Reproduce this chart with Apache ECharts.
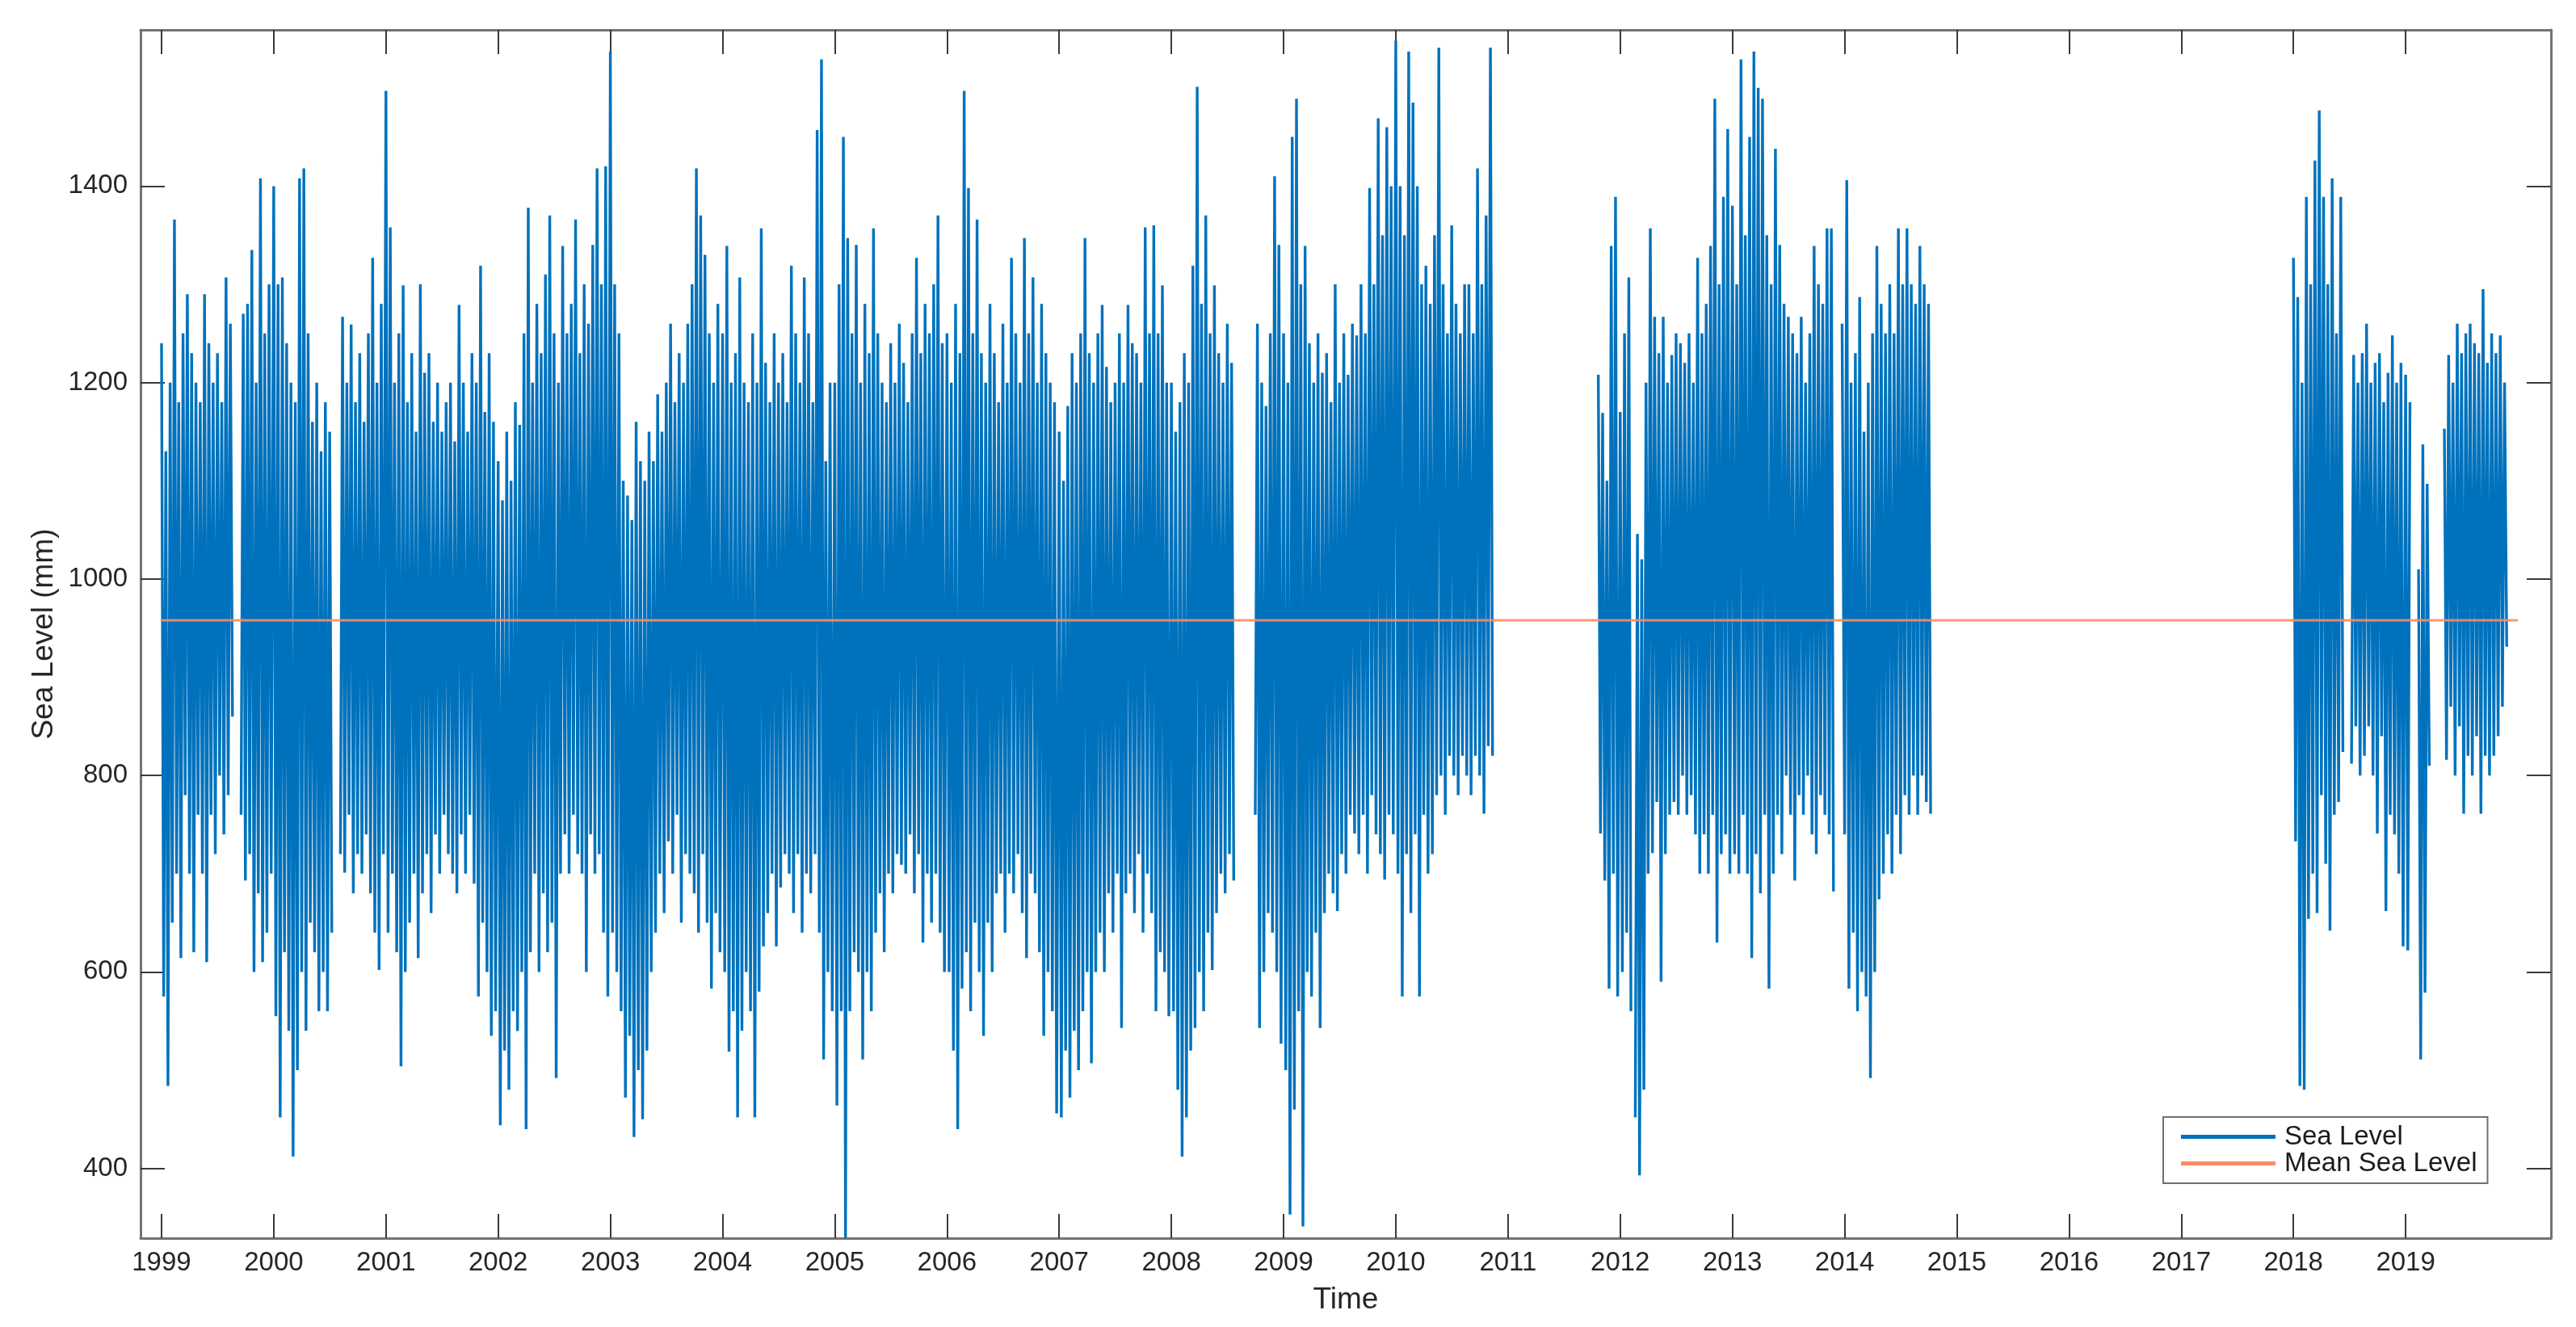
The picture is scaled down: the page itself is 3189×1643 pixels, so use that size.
<!DOCTYPE html>
<html>
<head>
<meta charset="utf-8">
<script src="https://cdn.jsdelivr.net/npm/echarts@6/dist/echarts.min.js"></script>
<style>
html,body{margin:0;padding:0;background:#fff;}
#chart{width:3189px;height:1643px;}
</style>
</head>
<body>
<div id="chart"></div>
<script>
// ---- Data (weekly extremes, mm) ----
const sl1999 = [1240,575,1130,484,1200,650,1366,700,1180,614,1250,780,1290,700,1230,620,1200,760,1180,700,1290,610,1240,760,1200,720,1230,800,1180,740,1307,780,1260,860,null,null,null,760,1270,693,1280,720,1335,600,1200,680,1408,610,1250,640,1300,700];
const sl2000 = [1400,555,1300,452,1307,620,1240,540,1200,412,1180,500,1408,600,1418,540,1250,650,1160,620,1200,560,1130,600,1180,560,1150,640,null,null,null,720,1267,701,1200,760,1259,680,1180,720,1230,700,1160,740,1250,680,1327,640,1200,602,1280,720];
const sl2001 = [1497,640,1358,700,1200,620,1250,504,1299,600,1180,650,1230,700,1150,614,1300,680,1210,720,1230,660,1160,740,1200,700,1150,760,1180,720,1200,700,1140,680,1279,740,1200,700,1150,760,1230,690,1200,575,1319,650,1170,600,1230,535,1160,560];
const sl2002 = [1120,444,1080,520,1150,480,1100,560,1180,540,1157,600,1250,440,1378,620,1200,700,1280,600,1230,680,1310,620,1370,650,1250,492,1200,700,1339,740,1250,700,1280,760,1366,720,1230,700,1300,600,1260,740,1340,700,1418,720,1300,640,1420,575];
const sl2003 = [1537,640,1300,600,1250,560,1100,472,1085,535,1060,432,1160,500,1120,450,1100,520,1150,600,1120,640,1188,700,1150,660,1200,733,1260,700,1180,760,1230,650,1200,720,1260,700,1300,680,1418,640,1370,720,1330,650,1250,583,1200,660,1280,620];
const sl2004 = [1250,600,1339,519,1200,560,1230,452,1307,540,1200,600,1180,560,1250,452,1200,580,1357,626,1220,660,1180,700,1250,626,1200,686,1230,720,1180,700,1319,660,1250,720,1200,640,1307,700,1250,680,1180,720,1457,640,1529,511,1120,600,1200,560];
const sl2005 = [1200,464,1300,560,1450,329,1347,560,1250,620,1340,600,1200,511,1280,600,1230,560,1357,640,1250,680,1200,620,1180,700,1240,680,1200,720,1260,709,1220,700,1180,740,1250,680,1327,720,1230,630,1280,700,1250,650,1300,700,1370,640,1240,600];
const sl2006 = [1250,600,1200,520,1280,440,1230,583,1497,620,1398,560,1250,650,1366,600,1230,535,1200,650,1280,600,1230,680,1180,700,1260,640,1200,700,1327,680,1250,720,1200,660,1347,614,1250,700,1307,680,1200,620,1280,535,1230,600,1200,560,1180,456];
const sl2007 = [1150,452,1100,520,1176,472,1230,540,1200,500,1250,560,1347,600,1230,507,1200,600,1250,640,1279,600,1216,680,1180,640,1200,700,1250,543,1200,680,1279,700,1240,660,1230,720,1200,640,1358,700,1250,660,1360,560,1250,620,1299,600,1200,555];
const sl2008 = [1200,560,1150,480,1180,412,1230,452,1200,520,1319,543,1501,600,1280,560,1370,640,1250,602,1299,660,1230,700,1200,680,1260,720,1220,693,null,null,null,null,null,null,null,null,null,760,1260,543,1200,600,1176,660,1250,640,1410,600,1340,527];
const sl2009 = [1250,500,1200,353,1450,460,1489,560,1300,341,1339,600,1240,575,1200,640,1250,543,1210,660,1230,700,1180,680,1300,662,1200,720,1250,700,1208,760,1260,741,1248,720,1300,760,1250,700,1398,780,1300,740,1469,720,1350,694,1460,760,1400,740];
const sl2010 = [1548,700,1400,575,1350,720,1537,660,1485,740,1400,575,1300,760,1319,700,1280,720,1350,780,1541,800,1300,760,1250,820,1360,800,1280,780,1250,820,1300,800,1300,780,1250,820,1418,800,1300,761,1370,830,1541,820,null,null,null,null,null,null];
const sl2011 = [null,null,null,null,null,null,null,null,null,null,null,null,null,null,null,null,null,null,null,null,null,null,null,null,null,null,null,null,null,null,null,null,null,null,null,null,null,null,null,null,null,null,1208,741,1169,693,1100,583,1339,700,1389,575];
const sl2012 = [1170,600,1250,640,1307,560,null,452,1046,393,1020,480,1200,700,1357,721,1267,773,1230,590,1267,720,1200,760,1228,773,1250,760,1240,800,1220,760,1250,780,1200,740,1327,700,1250,740,1280,700,1339,760,1489,630,1300,720,1389,740,1458,700];
const sl2013 = [1380,720,1300,700,1529,760,1350,700,1450,614,1537,720,1500,680,1489,760,1350,583,1300,700,1438,760,1340,720,1280,800,1267,760,1250,693,1230,780,1267,760,1200,800,1250,740,1339,720,1300,780,1280,760,1357,740,1357,682,null,null,null,1260];
const sl2014 = [740,1406,583,1200,640,1230,560,1287,600,1150,575,1200,492,1250,600,1339,674,1280,700,1250,740,1300,700,1250,760,1357,720,1300,780,1357,760,1300,800,1280,760,1339,800,1300,773,1280,761,null,null,null,null,null,null,null,null,null,null,null];
const sl2018 = [1327,733,1287,484,1200,480,1389,654,1300,700,1426,660,1477,780,1389,710,1300,642,1408,760,1250,773,1389,824,null,null,null,812,1228,850,1200,800,1230,820,1260,850,1200,800,1220,741,1230,840,1180,662,1210,760,1248,740,1200,700,1220,626];
const sl2019 = [1208,622,1180,null,null,null,1010,511,1137,579,1097,810,null,null,null,null,null,null,1153,816,1228,870,1200,800,1260,850,1230,761,1250,820,1260,800,1240,840,1230,761,1295,820,1220,800,1250,820,1230,840,1248,870,1200,931];

const dataYears = [1999,2000,2001,2002,2003,2004,2005,2006,2007,2008,2009,2010,2011,2012,2013,2014,2018,2019];
const yearArrays = [sl1999,sl2000,sl2001,sl2002,sl2003,sl2004,sl2005,sl2006,sl2007,sl2008,sl2009,sl2010,sl2011,sl2012,sl2013,sl2014,sl2018,sl2019];

const meanSeaLevel = 958;
const meanStartYear = 1999;
const meanEndYear = 2020;

const xTickYears = [1999,2000,2001,2002,2003,2004,2005,2006,2007,2008,2009,2010,2011,2012,2013,2014,2015,2016,2017,2018,2019];
const yTickValues = [400,600,800,1000,1200,1400];
const xRange = [1998.813, 2020.295];
const yRange = [329, 1559];

// ---- Build series data: weekly samples, decimal-year x ----
const seaData = [];
dataYears.forEach(function (yr, i) {
  yearArrays[i].forEach(function (v, w) {
    const x = yr + (w * 7) / 365.25;
    seaData.push([x, v === null ? '-' : v]);
  });
});
const meanData = [[meanStartYear, meanSeaLevel], [meanEndYear, meanSeaLevel]];

const FONT = '"Liberation Sans", Arial, Helvetica, sans-serif';
const axisLineStyle = { color: '#737373', width: 3 };
const tickStyle = { color: '#3a3a3a', width: 2 };

const chart = echarts.init(document.getElementById('chart'), null, { renderer: 'canvas' });
chart.setOption({
  animation: false,
  backgroundColor: '#ffffff',
  textStyle: { fontFamily: FONT },
  grid: { left: 174, right: 31, top: 37, bottom: 110, containLabel: false },
  legend: {
    orient: 'vertical',
    left: 2678,
    top: 1383,
    padding: [8, 13, 8, 22],
    itemGap: 0,
    itemWidth: 117,
    itemHeight: 5,
    backgroundColor: '#ffffff',
    borderColor: '#6f6f6f',
    borderWidth: 2,
    borderRadius: 0,
    textStyle: { fontSize: 33, color: '#1a1a1a', fontFamily: FONT, lineHeight: 31, padding: [0, 0, 0, 6] },
    data: [
      { name: 'Sea Level', icon: 'rect' },
      { name: 'Mean Sea Level', icon: 'rect' }
    ]
  },
  xAxis: [
    {
      type: 'value', position: 'bottom', min: xRange[0], max: xRange[1],
      name: 'Time', nameLocation: 'middle', nameGap: 58,
      nameTextStyle: { fontSize: 37, color: '#262626', fontFamily: FONT },
      axisLine: { show: true, onZero: false, lineStyle: axisLineStyle },
      axisTick: { show: true, inside: true, length: 30, lineStyle: tickStyle, customValues: xTickYears },
      axisLabel: { show: true, fontSize: 33, color: '#262626', margin: 14, fontFamily: FONT,
        customValues: xTickYears, formatter: function (v) { return String(Math.round(v)); } },
      splitLine: { show: false }
    },
    {
      type: 'value', position: 'top', min: xRange[0], max: xRange[1],
      axisLine: { show: true, onZero: false, lineStyle: axisLineStyle },
      axisTick: { show: true, inside: true, length: 30, lineStyle: tickStyle, customValues: xTickYears },
      axisLabel: { show: false },
      splitLine: { show: false }
    }
  ],
  yAxis: [
    {
      type: 'value', position: 'left', min: yRange[0], max: yRange[1],
      name: 'Sea Level (mm)', nameLocation: 'middle', nameGap: 88,
      nameTextStyle: { fontSize: 37, color: '#262626', fontFamily: FONT },
      axisLine: { show: true, onZero: false, lineStyle: axisLineStyle },
      axisTick: { show: true, inside: true, length: 30, lineStyle: tickStyle, customValues: yTickValues },
      axisLabel: { show: true, fontSize: 33, color: '#262626', margin: 16, fontFamily: FONT,
        customValues: yTickValues, formatter: function (v) { return String(Math.round(v)); } },
      splitLine: { show: false }
    },
    {
      type: 'value', position: 'right', min: yRange[0], max: yRange[1],
      axisLine: { show: true, onZero: false, lineStyle: axisLineStyle },
      axisTick: { show: true, inside: true, length: 30, lineStyle: tickStyle, customValues: yTickValues },
      axisLabel: { show: false },
      splitLine: { show: false }
    }
  ],
  series: [
    {
      name: 'Sea Level', type: 'line', xAxisIndex: 0, yAxisIndex: 0,
      data: seaData, showSymbol: false, symbol: 'none', connectNulls: false,
      color: '#0072BD',
      lineStyle: { width: 3.4, color: '#0072BD', join: 'bevel' },
      sampling: null, clip: true, z: 2
    },
    {
      name: 'Mean Sea Level', type: 'line', xAxisIndex: 0, yAxisIndex: 0,
      data: meanData, showSymbol: false, symbol: 'none',
      color: '#FA8C68',
      lineStyle: { width: 3, color: '#FA8C68', opacity: 0.9 },
      clip: true, z: 3
    }
  ]
});
</script>
</body>
</html>
